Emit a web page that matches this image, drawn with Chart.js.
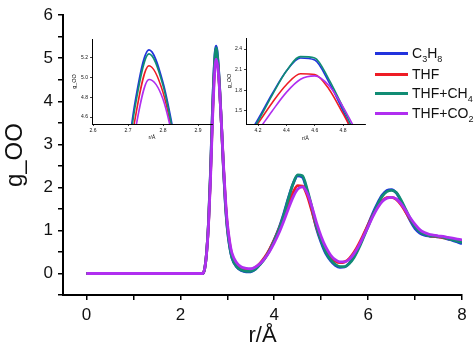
<!DOCTYPE html>
<html>
<head>
<meta charset="utf-8">
<script src="https://cdn.jsdelivr.net/npm/chart.js@4.4.1/dist/chart.umd.min.js"></script>
<style>
  body { margin: 0; background: #fff; }
  #wrap { position: relative; width: 474px; height: 348px; background: #fff; }
  canvas { position: absolute; }
  .leg { position: absolute; left: 375px; height: 16px; line-height: 16px;
         font-family: "Liberation Sans", Arial, sans-serif; font-size: 14px; color: #111; white-space: nowrap; }
  .leg span.ln { display: inline-block; width: 33px; height: 3px; margin-right: 4px; vertical-align: middle; position: relative; top: -1px; }
  .leg sub { font-size: 9px; vertical-align: -4px; line-height: 0; }
</style>
</head>
<body>
<div id="wrap">
  <canvas id="main" width="474" height="348" style="left:0;top:0"></canvas>
  <canvas id="inset1" width="152" height="114" style="left:66px;top:30px"></canvas>
  <canvas id="inset2" width="150" height="114" style="left:222px;top:30px"></canvas>
  <div class="leg" style="top:45px"><span class="ln" style="background:#2233dd"></span><span>C<sub>3</sub>H<sub>8</sub></span></div>
  <div class="leg" style="top:66px"><span class="ln" style="background:#ee1c25"></span><span>THF</span></div>
  <div class="leg" style="top:85px"><span class="ln" style="background:#118c74"></span><span>THF+CH<sub>4</sub></span></div>
  <div class="leg" style="top:105px"><span class="ln" style="background:#b02ef0"></span><span>THF+CO<sub>2</sub></span></div>
</div>
<script>
// r grid (Å)
const rVals = [0, 2.48, 2.52, 2.56, 2.6, 2.64, 2.68, 2.72, 2.76, 2.8, 2.84, 2.88, 2.92, 2.96, 3.0, 3.05, 3.1, 3.2, 3.3, 3.4,
  3.5, 3.6, 3.7, 3.8, 3.9, 4.0, 4.1, 4.2, 4.3, 4.4, 4.5, 4.6, 4.7, 4.8, 4.9, 5.0, 5.1, 5.2, 5.3, 5.4,
  5.5, 5.6, 5.7, 5.8, 5.9, 6.0, 6.1, 6.2, 6.3, 6.4, 6.5, 6.6, 6.7, 6.8, 6.9, 7.0, 7.1, 7.2, 7.3, 7.4,
  7.5, 7.6, 7.7, 7.8, 7.9, 8.0];

const gC3H8 = [0, 0, 0.12, 0.5, 1.2, 2.3, 3.65, 4.75, 5.28, 4.95, 4.25, 3.35, 2.4, 1.6, 1.05, 0.62, 0.36, 0.15, 0.07, 0.04,
  0.04, 0.1, 0.22, 0.36, 0.55, 0.78, 1.05, 1.38, 1.75, 2.08, 2.27, 2.24, 1.92, 1.5, 1.05, 0.72, 0.46, 0.3, 0.19, 0.14,
  0.15, 0.24, 0.4, 0.62, 0.87, 1.13, 1.4, 1.63, 1.82, 1.93, 1.95, 1.87, 1.68, 1.45, 1.22, 1.04, 0.94, 0.89, 0.87, 0.86,
  0.85, 0.83, 0.8, 0.77, 0.73, 0.69];

const gTHF = [0, 0, 0.12, 0.5, 1.15, 2.2, 3.5, 4.58, 5.12, 4.85, 4.2, 3.35, 2.45, 1.68, 1.12, 0.7, 0.43, 0.22, 0.13, 0.1,
  0.09, 0.14, 0.24, 0.38, 0.56, 0.78, 1.03, 1.32, 1.62, 1.88, 2.04, 2.03, 1.82, 1.46, 1.08, 0.78, 0.55, 0.39, 0.29, 0.25,
  0.27, 0.35, 0.49, 0.68, 0.9, 1.13, 1.36, 1.55, 1.69, 1.76, 1.77, 1.72, 1.6, 1.43, 1.25, 1.1, 0.99, 0.92, 0.88, 0.86,
  0.85, 0.83, 0.81, 0.79, 0.77, 0.75];

const gTHF_CH4 = [0, 0, 0.12, 0.5, 1.18, 2.26, 3.6, 4.7, 5.24, 4.92, 4.22, 3.35, 2.42, 1.62, 1.07, 0.64, 0.37, 0.16, 0.08, 0.05,
  0.05, 0.1, 0.21, 0.35, 0.53, 0.76, 1.02, 1.35, 1.73, 2.08, 2.29, 2.27, 1.96, 1.55, 1.1, 0.76, 0.49, 0.32, 0.21, 0.16,
  0.16, 0.23, 0.37, 0.58, 0.83, 1.09, 1.36, 1.6, 1.79, 1.9, 1.93, 1.88, 1.71, 1.49, 1.27, 1.08, 0.97, 0.91, 0.88, 0.87,
  0.86, 0.84, 0.81, 0.78, 0.75, 0.72];

const gTHF_CO2 = [0, 0, 0.12, 0.48, 1.12, 2.12, 3.4, 4.45, 4.98, 4.78, 4.18, 3.38, 2.5, 1.75, 1.18, 0.75, 0.47, 0.25, 0.15, 0.12,
  0.11, 0.15, 0.23, 0.35, 0.51, 0.71, 0.94, 1.21, 1.5, 1.77, 1.96, 2.01, 1.87, 1.56, 1.18, 0.86, 0.61, 0.43, 0.32, 0.27,
  0.27, 0.33, 0.46, 0.64, 0.86, 1.09, 1.32, 1.52, 1.67, 1.75, 1.77, 1.73, 1.62, 1.46, 1.29, 1.14, 1.02, 0.95, 0.91, 0.89,
  0.87, 0.86, 0.84, 0.82, 0.8, 0.78];

const seriesNames = ['C3H8', 'THF', 'THF+CH4', 'THF+CO2'];
const seriesData = [gC3H8, gTHF, gTHF_CH4, gTHF_CO2];
const seriesColors = ['#2233dd', '#ee1c25', '#118c74', '#b02ef0'];
const drawOrder = [4, 3, 2, 1];

const fontFam = "'Liberation Sans', Arial, sans-serif";

function makeDatasets(width) {
  return seriesData.map((g, i) => ({
    label: seriesNames[i],
    data: rVals.map((r, k) => ({x: r, y: g[k]})),
    borderColor: seriesColors[i],
    borderWidth: width,
    pointRadius: 0,
    cubicInterpolationMode: 'monotone',
    order: drawOrder[i],
    fill: false
  }));
}

function axis(min, max, step, fontSize, tickLen, pad, labelFn, fixSize, title, titleSize, titlePad, lw) {
  return {
    type: 'linear', min: min, max: max,
    border: {display: true, color: '#000', width: lw},
    grid: {drawOnChartArea: false, drawTicks: true, tickLength: tickLen, color: '#000', tickColor: '#000', lineWidth: lw * 0.75},
    ticks: {stepSize: step, includeBounds: false, autoSkip: false, maxTicksLimit: 30, maxRotation: 0,
      padding: pad, color: '#111', font: {family: fontFam, size: fontSize}, callback: labelFn},
    title: {display: true, text: title, color: '#111', padding: titlePad,
      font: {family: fontFam, size: titleSize, lineHeight: 1}},
    afterFit: fixSize
  };
}

const baseOpts = {
  responsive: false, animation: false, devicePixelRatio: 1,
  plugins: {legend: {display: false}, tooltip: {enabled: false}}
};

new Chart(document.getElementById('main'), {
  type: 'line',
  data: {datasets: makeDatasets(2.8)},
  options: Object.assign({}, baseOpts, {
    layout: {padding: {top: 6, right: 12, left: 0, bottom: 0}},
    scales: {
      x: axis(-0.5, 8, 1, 17, 5, 5, v => (Math.abs(v % 2) < 1e-6 ? String(Math.round(v)) : ''),
        s => { s.height = 53; }, 'r/Å', 22, {top: 0, bottom: 1}, 2),
      y: axis(-0.5, 6, 0.5, 17, 5, 5, v => (Math.abs(v - Math.round(v)) < 1e-6 ? String(Math.round(v)) : ''),
        s => { s.width = 63; }, 'g_OO', 24, {top: 3, bottom: 0}, 2)
    }
  })
});

new Chart(document.getElementById('inset1'), {
  type: 'line',
  data: {datasets: makeDatasets(1.6)},
  options: Object.assign({}, baseOpts, {
    layout: {padding: {top: 9, right: 6, left: 0, bottom: 0}},
    scales: {
      x: axis(2.597, 2.94, 0.1, 5, 2, 2, v => v.toFixed(1), s => { s.height = 20; }, 'r/Å', 5.5, {top: 0, bottom: 4}, 1),
      y: axis(4.53, 5.39, 0.2, 5, 2, 2, v => v.toFixed(1), s => { s.width = 26; }, 'g_OO', 5.5, {top: 6, bottom: 0}, 1)
    }
  })
});

new Chart(document.getElementById('inset2'), {
  type: 'line',
  data: {datasets: makeDatasets(1.6)},
  options: Object.assign({}, baseOpts, {
    layout: {padding: {top: 8, right: 7, left: 0, bottom: 0}},
    scales: {
      x: axis(4.115, 4.955, 0.2, 5, 2, 2, v => v.toFixed(1), s => { s.height = 20; }, 'r/Å', 5.5, {top: 0, bottom: 3}, 1),
      y: axis(1.31, 2.56, 0.3, 5, 2, 2, v => v.toFixed(1), s => { s.width = 24; }, 'g_OO', 5.5, {top: 5, bottom: 0}, 1)
    }
  })
});
</script>
</body>
</html>
